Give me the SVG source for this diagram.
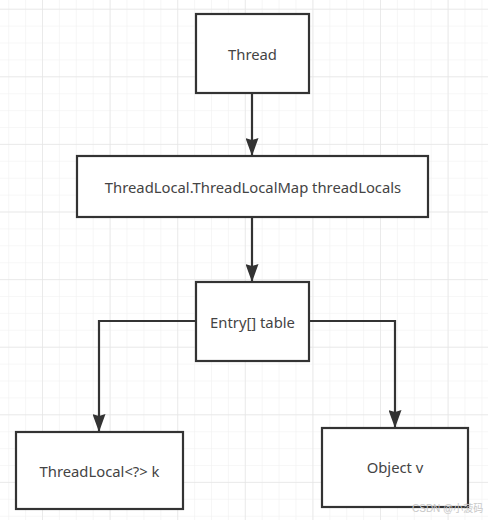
<svg xmlns="http://www.w3.org/2000/svg" width="488" height="520" viewBox="0 0 488 520">
<style>
.box{fill:#ffffff;stroke:#333333;stroke-width:2.2}
.lbl{font-family:"Noto Sans","Liberation Sans",sans-serif;font-size:14.8px;fill:#444444;text-anchor:middle;dominant-baseline:central}
.conn{fill:none;stroke:#333333;stroke-width:2.2}
.wm{font-family:"Liberation Sans","Noto Sans CJK SC",sans-serif;font-size:10px;fill:#c8c8c8}
</style>
<defs>
<pattern id="minor" patternUnits="userSpaceOnUse" x="8.2" y="8.7" width="16.9" height="16.9">
<path d="M0,0 H16.9 M0,0 V16.9" stroke="#f0f0f0" stroke-width="1.2" fill="none"/>
</pattern>
<pattern id="major" patternUnits="userSpaceOnUse" x="42" y="8.7" width="67.6" height="67.6">
<path d="M0,0 H67.6 M0,0 V67.6" stroke="#e6e6e6" stroke-width="1.4" fill="none"/>
</pattern>
<marker id="arr" markerUnits="userSpaceOnUse" markerWidth="18" markerHeight="13" refX="18" refY="6.5" orient="auto">
<path d="M0,0 L18,6.5 L0,13 L2,6.5 z" fill="#333333"/>
</marker>
</defs>
<rect x="0" y="0" width="488" height="520" fill="#ffffff"/>
<rect x="0" y="0" width="488" height="520" fill="url(#minor)"/>
<rect x="0" y="0" width="488" height="520" fill="url(#major)"/>
<g id="connectors">
<path class="conn" d="M252,94 V156" marker-end="url(#arr)"/>
<path class="conn" d="M252,218 V282" marker-end="url(#arr)"/>
<path class="conn" d="M196,321 H99 V432" marker-end="url(#arr)"/>
<path class="conn" d="M309,321 H395 V428" marker-end="url(#arr)"/>
</g>
<g id="thread">
<rect class="box" x="196" y="14" width="113" height="79"/>
<text class="lbl" x="252.5" y="53.5">Thread</text>
</g>
<g id="threadLocalMap">
<rect class="box" x="77" y="156" width="351" height="61"/>
<text class="lbl" x="253" y="187">ThreadLocal.ThreadLocalMap threadLocals</text>
</g>
<g id="entryTable">
<rect class="box" x="196" y="282" width="113" height="79"/>
<text class="lbl" x="252.5" y="322">Entry[] table</text>
</g>
<g id="keyNode">
<rect class="box" x="16" y="432" width="167" height="77"/>
<text class="lbl" x="99.5" y="471">ThreadLocal&lt;?&gt; k</text>
</g>
<g id="valueNode">
<rect class="box" x="322" y="428" width="146" height="79"/>
<text class="lbl" x="395" y="467">Object v</text>
</g>
<text class="wm" x="412" y="512">CSDN @小菠码</text>
</svg>
